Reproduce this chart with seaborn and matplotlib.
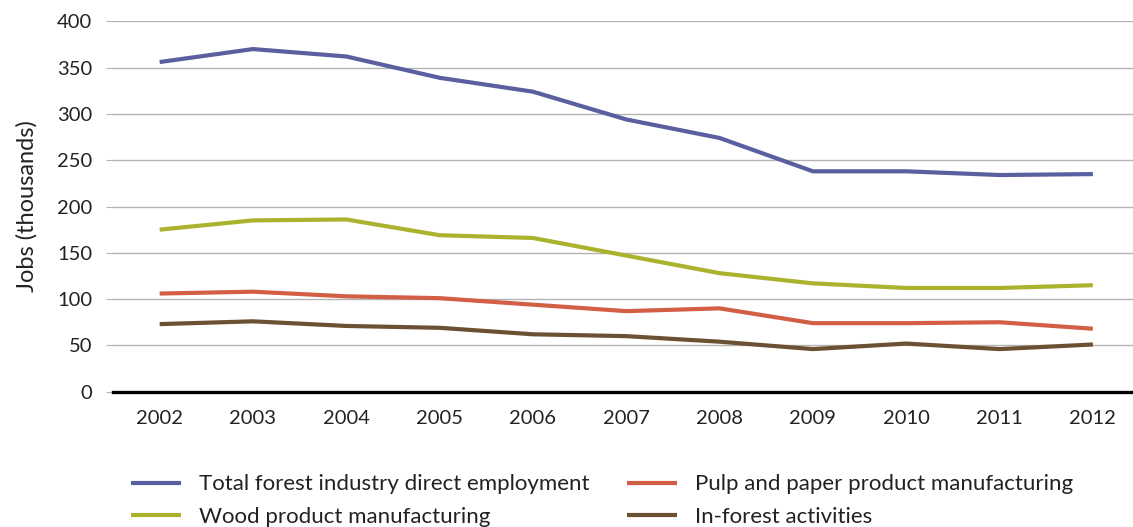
import matplotlib
matplotlib.use("Agg")
import matplotlib.pyplot as plt
import seaborn as sns
import pandas as pd

years = [2002, 2003, 2004, 2005, 2006, 2007, 2008, 2009, 2010, 2011, 2012]
total = [356, 370, 362, 339, 324, 294, 274, 238, 238, 234, 235]
wood = [175, 185, 186, 169, 166, 147, 128, 117, 112, 112, 115]
pulp = [106, 108, 103, 101, 94, 87, 90, 74, 74, 75, 68]
inforest = [73, 76, 71, 69, 62, 60, 54, 46, 52, 46, 51]

series_names = ["Total forest industry direct employment",
                "Wood product manufacturing",
                "Pulp and paper product manufacturing",
                "In-forest activities"]
colors = ["#5a5f9f", "#abb22e", "#d25e45", "#6c5033"]

df = pd.DataFrame({
    "Year": years * 4,
    "Jobs": total + wood + pulp + inforest,
    "Series": sum([[n] * len(years) for n in series_names], []),
})

sns.set_theme(style="white")
plt.rcParams["font.family"] = ["Lato", "DejaVu Sans"]

fig = plt.figure(figsize=(11.33, 5.27), dpi=100)
ax = fig.add_axes([113 / 1133, 1 - 391.7 / 527, 1 - 113 / 1133, (391.7 - 21.3) / 527])

sns.lineplot(data=df, x="Year", y="Jobs", hue="Series", hue_order=series_names,
             palette=dict(zip(series_names, colors)), linewidth=3.0, ax=ax,
             legend=False)
for ln in ax.get_lines():
    ln.set_solid_capstyle("butt")
    ln.set_solid_joinstyle("miter")

ax.set_xlim(2001.5, 2012.43)
ax.set_ylim(0, 400)
ax.set_yticks(range(0, 401, 50))
ax.set_xticks(years)
ax.set_xticklabels([str(y) for y in years])
ax.yaxis.grid(True, color="#b3b3b3", linewidth=1.0)
ax.xaxis.grid(False)
ax.set_axisbelow(True)
for s in ["top", "right", "left"]:
    ax.spines[s].set_visible(False)
ax.spines["bottom"].set_color("black")
ax.spines["bottom"].set_linewidth(2.4)
ax.spines["bottom"].set_zorder(5)
ax.tick_params(axis="y", left=True, length=5, width=0.8, color="#b3b3b3",
               labelsize=14.5, labelcolor="#222222", pad=10)
ax.tick_params(axis="x", bottom=False, labelsize=14.5, labelcolor="#222222", pad=7)
ax.set_xlabel("")
ax.set_ylabel("Jobs (thousands)", fontsize=17, color="#222222", labelpad=14)

handles = [plt.Line2D([], [], color=c, linewidth=3.0, solid_capstyle="butt") for c in colors]
fig.legend(handles, series_names, loc="upper left", bbox_to_anchor=(131 / 1133, 0.1),
           ncol=2, frameon=False, fontsize=16, handlelength=2.25,
           handletextpad=0.8, columnspacing=1.7, labelspacing=0.57,
           labelcolor="#222222", borderaxespad=0, borderpad=0)

fig.savefig("out.png", dpi=100)
